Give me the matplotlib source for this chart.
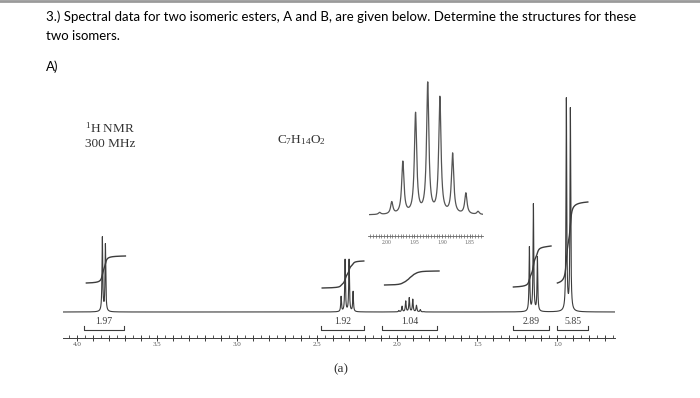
import numpy as np
import matplotlib.pyplot as plt
from matplotlib.ticker import MultipleLocator, FuncFormatter

plt.rcParams['mathtext.fontset'] = 'custom'
plt.rcParams['mathtext.rm'] = 'Liberation Serif'
plt.rcParams['mathtext.it'] = 'Liberation Serif:italic'

# 1H NMR peak list (ppm, height in px above baseline)
peak_ppm = [3.844, 3.825,
            2.352, 2.327, 2.302, 2.277,
            1.175, 1.150, 1.125,
            0.944, 0.919]
peak_height = [74, 67,
               15, 52, 52, 20,
               64, 107, 54,
               212, 202]

# the 1H multiplet near 1.92 ppm (heights as in the expanded inset)
multi_ppm = [2.013, 1.991, 1.971, 1.948, 1.926, 1.904, 1.881, 1.857, 1.835]
multi_height = [2, 12, 52, 100, 130, 116, 60, 21, 3]

# integration traces: start/end ppm, level before and after
int_start = [3.944, 2.470, 2.080, 1.275, 1.000]
int_end = [3.700, 2.210, 1.740, 1.040, 0.810]
int_low = [29, 24, 27, 25, 29]
int_high = [56, 51, 41, 66, 110]

# integral brackets under the peaks
br_start = [3.960, 2.475, 2.094, 1.275, 1.000]
br_end = [3.710, 2.206, 1.750, 1.050, 0.810]
br_label = ['1.97', '1.92', '1.04', '2.89', '5.85']

inset_ticks = ['2.00', '1.95', '1.90', '1.85']

W, H = 700, 398
fig = plt.figure(figsize=(7.0, 3.98), dpi=100)
fig.patch.set_facecolor('white')

ink = '#3c3c3c'
serif = 'Liberation Serif'


def lines(x, pos, hts, w):
    y = np.zeros_like(x)
    for p, h in zip(pos, hts):
        y += h / (1 + ((x - p) / w) ** 2)
    return y


def spectrum(x, w=0.0027, wm=0.003):
    main = lines(x, peak_ppm, peak_height, w)
    small = lines(x, multi_ppm, np.array(multi_height) * 14 / 130, wm)
    return main + small


# main spectrum axes, placed in pixels
ax = fig.add_axes([63 / W, (H - 338) / H, (615 - 63) / W, (338 - 80) / H])
ax.set_xlim(4.09, 0.64)
ax.set_ylim(-26, 232)

x = np.linspace(4.09, 0.64, 40000)
ax.plot(x, spectrum(x), color=ink, lw=0.8)

for a, b, lo, hi in zip(int_start, int_end, int_low, int_high):
    xi = np.linspace(a, b, 800)
    cum = np.cumsum(spectrum(xi, 0.007, 0.008))
    cum = cum / cum[-1]
    ax.plot(xi, lo + (hi - lo) * cum, color=ink, lw=1.0)

for a, b, lab in zip(br_start, br_end, br_label):
    ax.plot([a, a, b, b], [-14, -18, -18, -14], color=ink, lw=0.8)
    ax.text((a + b) / 2, -10, lab, ha='center', va='center',
            fontsize=7, family=serif, color=ink)

for s in ['top', 'right', 'left']:
    ax.spines[s].set_visible(False)
ax.spines['bottom'].set_color(ink)
ax.spines['bottom'].set_linewidth(0.7)
ax.set_yticks([])
ax.xaxis.set_major_locator(MultipleLocator(0.1))
ax.xaxis.set_minor_locator(MultipleLocator(0.05))
ax.xaxis.set_major_formatter(FuncFormatter(
    lambda v, p: '%.1f' % v if abs(v * 2 - round(v * 2)) < 1e-6 else ''))
ax.tick_params(axis='x', which='major', direction='inout', length=4,
               width=0.7, color=ink, labelsize=5, pad=1, labelcolor='#555')
ax.tick_params(axis='x', which='minor', direction='in', length=2,
               width=0.6, color=ink)
for t in ax.get_xticklabels():
    t.set_family(serif)
ax.patch.set_alpha(0)

# expanded inset of the 1.92 ppm multiplet
ins = fig.add_axes([368 / W, (H - 236) / H, (483 - 368) / W, (236 - 75) / H])
ins.set_xlim(2.034, 1.826)
ins.set_ylim(-21, 140)
xs = np.linspace(2.031, 1.822, 3000)
ins.plot(xs, lines(xs, multi_ppm, multi_height, 0.0025), color='#555', lw=0.9)
for s in ['top', 'right', 'left']:
    ins.spines[s].set_visible(False)
ins.spines['bottom'].set_color('#666')
ins.spines['bottom'].set_linewidth(0.6)
ins.set_yticks([])
ins.set_xticks([2.00, 1.95, 1.90, 1.85])
ins.set_xticklabels(inset_ticks, family=serif, fontsize=4, color='#666')
ins.xaxis.set_minor_locator(MultipleLocator(0.005))
ins.tick_params(axis='x', which='major', direction='inout', length=3,
                width=0.6, color='#666', pad=1.5)
ins.tick_params(axis='x', which='minor', direction='inout', length=2.5,
                width=0.5, color='#666')
ins.patch.set_alpha(0)

# labels on the figure
fig.text(85 / W, 1 - 128 / H, '$^\\mathrm{1}$H NMR', family=serif, fontsize=9.5,
         va='center', color='#333')
fig.text(85 / W, 1 - 144 / H, '300 MHz', family=serif, fontsize=9.5,
         va='center', color='#333')
fig.text(277 / W, 1 - 140 / H, 'C$_\\mathrm{7}$H$_\\mathrm{14}$O$_\\mathrm{2}$',
         family=serif, fontsize=9.5, va='center', color='#333')
fig.text(341 / W, 1 - 369 / H, '(a)', family=serif, fontsize=9.5,
         ha='center', va='center', color='#333')

fig.text(46 / W, 1 - 17 / H, '3.) Spectral data for two isomeric esters, A and B, '
         'are given below. Determine the structures for these',
         family='Lato', fontsize=9.5, va='center', color='#000')
fig.text(46 / W, 1 - 36 / H, 'two isomers.', family='Lato', fontsize=9.5,
         va='center', color='#000')
fig.text(46 / W, 1 - 67 / H, 'A)', family='Lato', fontsize=9.5,
         va='center', color='#000')

fig.add_artist(plt.Line2D([0, 1], [1 - 1 / H, 1 - 1 / H], color='#9a9a9a', lw=2))

fig.savefig('out.png', dpi=100, facecolor='white')
